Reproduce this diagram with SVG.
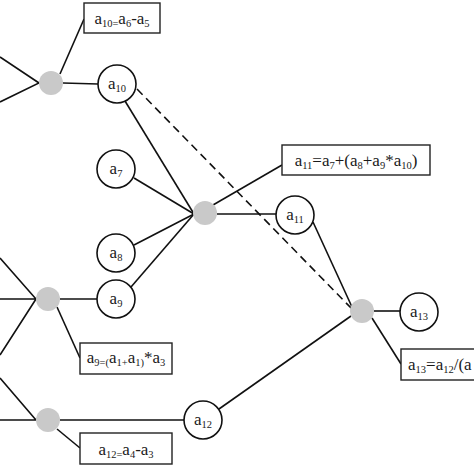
<svg xmlns="http://www.w3.org/2000/svg" width="474" height="474" viewBox="0 0 474 474">
<style>
.ln{stroke:#111;stroke-width:1.6;fill:none}
.dash{stroke:#111;stroke-width:1.6;fill:none;stroke-dasharray:8 5}
.circ{fill:#fff;stroke:#111;stroke-width:1.6}
.box{fill:#fff;stroke:#222;stroke-width:1.4}
.op{fill:#c9c9c9;filter:url(#soft)}
text{font-family:"Liberation Serif","Times New Roman",serif;font-size:17px;fill:#1a1a1a}
.s{font-size:10.5px}
</style>
<defs>
<filter id="soft" x="-30%" y="-30%" width="160%" height="160%"><feGaussianBlur stdDeviation="0.7"/></filter>
</defs>
<rect width="474" height="474" fill="#fff"/>
<g id="connectors">
<path class="ln" d="M0,57 L39,83 L0,102"/>
<line class="ln" x1="60" y1="74" x2="84" y2="19"/>
<line class="ln" x1="63" y1="83" x2="98" y2="84"/>
<line class="ln" x1="125" y1="101" x2="194" y2="214"/>
<line class="ln" x1="134" y1="178" x2="194" y2="214"/>
<line class="ln" x1="134" y1="245" x2="194" y2="214"/>
<line class="ln" x1="131" y1="287" x2="194" y2="214"/>
<line class="ln" x1="217" y1="214" x2="276" y2="214"/>
<line class="ln" x1="213" y1="205" x2="282" y2="165"/>
<line class="dash" x1="137" y1="89" x2="352" y2="309"/>
<line class="ln" x1="313" y1="222" x2="352" y2="307"/>
<line class="ln" x1="374" y1="311" x2="400" y2="311"/>
<line class="ln" x1="372" y1="318" x2="401" y2="364"/>
<line class="ln" x1="351" y1="316" x2="219" y2="409"/>
<path class="ln" d="M0,258 L36,299 L0,355 M0,299 L36,299"/>
<line class="ln" x1="60" y1="299" x2="97" y2="299"/>
<line class="ln" x1="57" y1="307" x2="80" y2="358"/>
<path class="ln" d="M0,378 L36,420 M0,420 L36,420"/>
<line class="ln" x1="60" y1="420" x2="184" y2="420"/>
<line class="ln" x1="57" y1="429" x2="80" y2="448"/>
</g>
<g id="op1"><circle class="op" cx="51" cy="83" r="12"/></g>
<g id="op2"><circle class="op" cx="205" cy="213" r="12"/></g>
<g id="op3"><circle class="op" cx="362" cy="311" r="12"/></g>
<g id="op4"><circle class="op" cx="48" cy="299" r="12"/></g>
<g id="op5"><circle class="op" cx="48" cy="420" r="12"/></g>
<g id="a10"><circle class="circ" cx="117" cy="84" r="19"/><text x="117" y="89" text-anchor="middle">a<tspan class="s" dy="3">10</tspan></text></g>
<g id="a7"><circle class="circ" cx="116" cy="169" r="19"/><text x="116" y="174" text-anchor="middle">a<tspan class="s" dy="3">7</tspan></text></g>
<g id="a8"><circle class="circ" cx="116" cy="253" r="19"/><text x="116" y="258" text-anchor="middle">a<tspan class="s" dy="3">8</tspan></text></g>
<g id="a9"><circle class="circ" cx="116" cy="299" r="19"/><text x="116" y="304" text-anchor="middle">a<tspan class="s" dy="3">9</tspan></text></g>
<g id="a11"><circle class="circ" cx="295" cy="215" r="19"/><text x="295" y="220" text-anchor="middle">a<tspan class="s" dy="3">11</tspan></text></g>
<g id="a13"><circle class="circ" cx="419" cy="312" r="19"/><text x="419" y="317" text-anchor="middle">a<tspan class="s" dy="3">13</tspan></text></g>
<g id="a12"><circle class="circ" cx="203" cy="420" r="19"/><text x="203" y="425" text-anchor="middle">a<tspan class="s" dy="3">12</tspan></text></g>
<g id="box10"><rect class="box" x="84" y="3" width="76" height="30"/><text x="122" y="24" text-anchor="middle">a<tspan class="s" dy="3">10=</tspan><tspan dy="-3">a</tspan><tspan class="s" dy="3">6</tspan><tspan dy="-3">-a</tspan><tspan class="s" dy="3">5</tspan></text></g>
<g id="box11"><rect class="box" x="282" y="145" width="148" height="30"/><text x="356" y="166" text-anchor="middle">a<tspan class="s" dy="3">11</tspan><tspan dy="-3">=a</tspan><tspan class="s" dy="3">7</tspan><tspan dy="-3">+(a</tspan><tspan class="s" dy="3">8</tspan><tspan dy="-3">+a</tspan><tspan class="s" dy="3">9</tspan><tspan dy="-3">*a</tspan><tspan class="s" dy="3">10</tspan><tspan dy="-3">)</tspan></text></g>
<g id="box9"><rect class="box" x="80" y="343" width="92" height="31"/><text x="126" y="363" text-anchor="middle">a<tspan class="s" dy="3">9=(</tspan><tspan dy="-3">a</tspan><tspan class="s" dy="3">1+</tspan><tspan dy="-3">a</tspan><tspan class="s" dy="3">1)</tspan><tspan dy="-3">*a</tspan><tspan class="s" dy="3">3</tspan></text></g>
<g id="box12"><rect class="box" x="80" y="433" width="92" height="31"/><text x="126" y="455" text-anchor="middle">a<tspan class="s" dy="3">12=</tspan><tspan dy="-3">a</tspan><tspan class="s" dy="3">4</tspan><tspan dy="-3">-a</tspan><tspan class="s" dy="3">3</tspan></text></g>
<g id="box13"><rect class="box" x="401" y="349" width="100" height="31"/><text x="408" y="370">a<tspan class="s" dy="3">13</tspan><tspan dy="-3">=a</tspan><tspan class="s" dy="3">12</tspan><tspan dy="-3">/(a</tspan></text></g>
</svg>
